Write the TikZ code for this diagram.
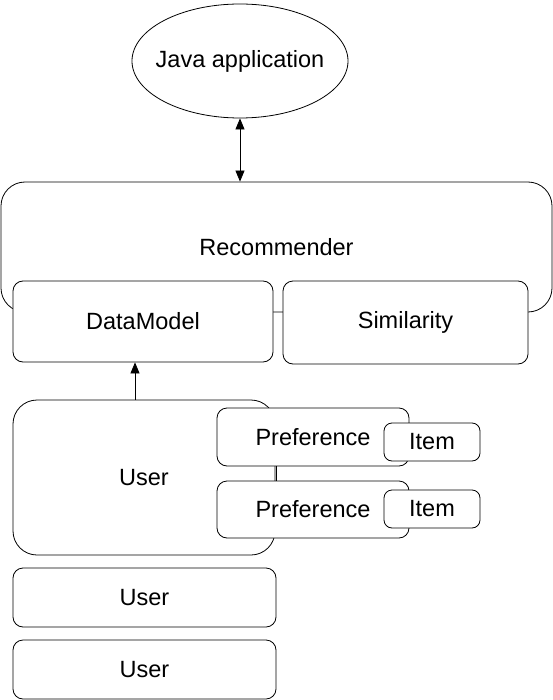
\documentclass[tikz,border=0pt]{standalone}
\usepackage{fontspec}
\setmainfont{Liberation Sans}
\usetikzlibrary{shapes.geometric,arrows.meta}

\begin{document}
\begin{tikzpicture}[x=1bp, y=-1bp, line width=0.8bp,
    every node/.style={font=\fontsize{23.5bp}{28bp}\selectfont, inner sep=0pt},
    box/.style={draw, fill=white, rounded corners=10bp},
    bigbox/.style={draw, fill=white, rounded corners=24bp},
    tip/.style={-{Triangle[length=11bp,width=9bp]}},
    tips/.style={{Triangle[length=11bp,width=9bp]}-{Triangle[length=11bp,width=9bp]}}]
    \useasboundingbox (0,0) rectangle (553,700);

    % Application on top
    \node[draw, ellipse, inner sep=-9bp, minimum width=216bp, minimum height=114bp] (java) at (240,61) {Java application};

    % Recommender with its parts
    \node[bigbox, minimum width=551bp, minimum height=130bp] (rec) at (276.5,247) {Recommender};
    \node[box, minimum width=260bp, minimum height=81bp] (dm) at (143,321.5) {DataModel};
    \node[box, minimum width=245bp, minimum height=83bp] (sim) at (405.5,322.5) {Similarity};

    \draw[tips] (java.south) -- (java.south |- rec.north);

    % Users and preferences
    \node[bigbox, minimum width=262bp, minimum height=155bp] (user) at (144,477.5) {User};
    \node[box, minimum width=192bp, minimum height=58bp] (pref1) at (313,437) {Preference};
    \node[box, minimum width=192bp, minimum height=57bp] (pref2) at (313,509.5) {Preference};
    \node[box, rounded corners=8bp, minimum width=96bp, minimum height=38bp] (item1) at (432,442) {Item};
    \node[box, rounded corners=8bp, minimum width=96bp, minimum height=38bp] (item2) at (432,509) {Item};
    \draw ([xshift=-37bp]pref1.south) -- ([xshift=-37bp]pref2.north);

    \draw[tip] ([xshift=-9bp]user.north) -- ([xshift=-9bp]user.north |- dm.south);

    \node[box, minimum width=263bp, minimum height=59bp] (user2) at (144.5,597.5) {User};
    \node[box, minimum width=263bp, minimum height=59bp] (user3) at (144.5,669.5) {User};
\end{tikzpicture}
\end{document}
